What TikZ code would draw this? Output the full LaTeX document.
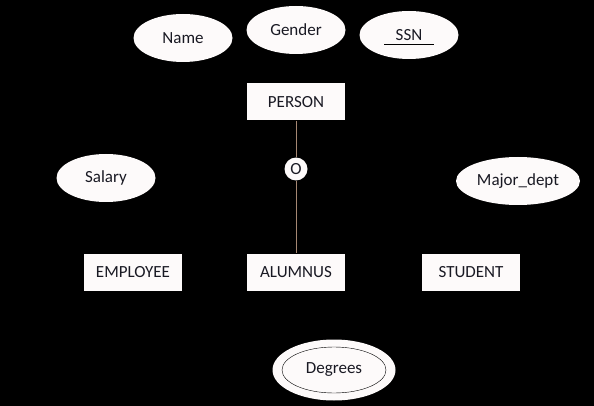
\documentclass[tikz,border=0pt]{standalone}
\usepackage{fontspec}
\setmainfont{Carlito}
\usetikzlibrary{shapes.geometric}
\definecolor{shapeColor}{RGB}{253,250,250}
\definecolor{textColor}{RGB}{25,25,35}
\definecolor{lineColor}{RGB}{165,135,115}
\tikzstyle{diagram} = [x = 1pt, y = -1pt, every node/.style={font=\fontsize{17}{20}\selectfont, text=textColor}]
\tikzstyle{entityStyle} = [rectangle, fill=shapeColor, minimum width=98pt, minimum height=37pt, inner sep=0pt]
\tikzstyle{attributeStyle} = [ellipse, fill=shapeColor, minimum width=99pt, minimum height=48pt, inner sep=0pt]
\tikzstyle{circleStyle} = [circle, fill=shapeColor, minimum size=23pt, inner sep=0pt]
\tikzstyle{linkLine} = [color=lineColor, line width=.8pt]
\newcommand{\entity}[3]{\node [entityStyle] (#1) at (#2) {#3};}
\newcommand{\attribute}[3]{\node [attributeStyle] (#1) at (#2) {#3};}

\begin{document}
\begin{tikzpicture}[diagram]
        \fill [black] (0,0) rectangle (594,406);
        \useasboundingbox (0,0) rectangle (594,406);

        % attributes
        \attribute{name}{183,38}{Name}
        \attribute{gender}{296,30}{Gender}
        \attribute{ssn}{409,35}{SSN}
        \draw [black, thin] ([xshift=-25pt,yshift=-9pt]ssn.center) -- ++(50,0);
        \attribute{salary}{106,178}{Salary}
        \node [attributeStyle, minimum width=124pt] (major) at (518,181) {Major\_dept};

        % entities
        \entity{person}{296,102}{PERSON}
        \entity{employee}{133,272}{EMPLOYEE}
        \entity{alumnus}{296,272}{ALUMNUS}
        \entity{student}{471,272}{STUDENT}

        % overlap circle
        \node [circleStyle] (overlap) at (296,169) {O};
        \draw [linkLine] (person) -- (overlap);
        \draw [linkLine] (overlap) -- (alumnus);

        % multivalued attribute
        \node [attributeStyle, minimum width=123pt, minimum height=61pt] (degrees) at (334,370) {Degrees};
        \draw [black, thin] (degrees.center) ellipse (52 and 23);
      \end{tikzpicture}
\end{document}
